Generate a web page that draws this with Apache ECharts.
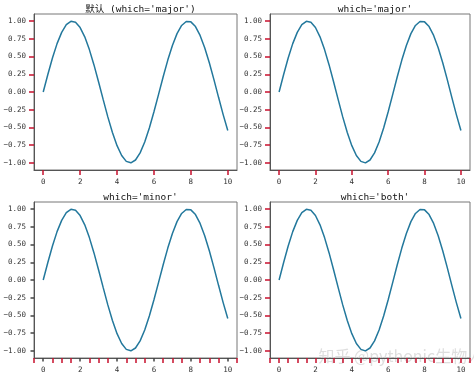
<!DOCTYPE html>
<html>
<head>
<meta charset="utf-8">
<script src="https://cdn.jsdelivr.net/npm/echarts@6/dist/echarts.min.js"></script>
<style>
  html, body { margin: 0; padding: 0; background: #fff; }
  #chart { width: 474px; height: 378px; }
</style>
</head>
<body>
<div id="chart"></div>
<script>
// sin 曲线读数 (x 间隔 0.25)
const xs = [0, 0.25, 0.5, 0.75, 1, 1.25, 1.5, 1.75, 2, 2.25, 2.5, 2.75, 3, 3.25, 3.5, 3.75,
  4, 4.25, 4.5, 4.75, 5, 5.25, 5.5, 5.75, 6, 6.25, 6.5, 6.75, 7, 7.25, 7.5, 7.75,
  8, 8.25, 8.5, 8.75, 9, 9.25, 9.5, 9.75, 10];
const ys = [0, 0.247, 0.479, 0.682, 0.841, 0.949, 0.997, 0.984, 0.909, 0.778, 0.598, 0.382,
  0.141, -0.108, -0.351, -0.572, -0.757, -0.895, -0.978, -0.999, -0.959, -0.859, -0.706,
  -0.508, -0.279, -0.033, 0.215, 0.45, 0.657, 0.823, 0.938, 0.995, 0.989, 0.923, 0.798,
  0.624, 0.412, 0.174, -0.075, -0.319, -0.544];

const xMajorTicks = [0, 2, 4, 6, 8, 10];
const xMinorTicks = [-0.5, 0.5, 1, 1.5, 2.5, 3, 3.5, 4.5, 5, 5.5, 6.5, 7, 7.5, 8.5, 9, 9.5, 10.5];
const xAllTicks = [-0.5, 0, 0.5, 1, 1.5, 2, 2.5, 3, 3.5, 4, 4.5, 5, 5.5, 6, 6.5, 7, 7.5, 8, 8.5, 9, 9.5, 10, 10.5];
const yTicks = [-1, -0.75, -0.5, -0.25, 0, 0.25, 0.5, 0.75, 1];

const titles = ["默认 (which='major')", "which='major'", "which='minor'", "which='both'"];

const FONT = "'DejaVu Sans Mono', 'Noto Sans CJK SC', monospace";
const RED = '#c8102e';
const GRAY = '#555';
const LINE = '#23789c';

// 四个子图的位置
const grids = [
  { left: 34, top: 14, width: 203, height: 156 },
  { left: 270, top: 14, width: 200, height: 156 },
  { left: 34, top: 202, width: 203, height: 156 },
  { left: 270, top: 202, width: 200, height: 156 }
];

const points = xs.map((x, i) => [x, ys[i]]);

const fmtY = v => (v < 0 ? '\u2212' : '') + Math.abs(v).toFixed(2);

const makeX = (gridIndex, tickValues, tickColor, tickLen) => ({
  type: 'value',
  gridIndex,
  position: 'bottom',
  offset: 0,
  min: -0.5,
  max: 10.5,
  axisLine: { show: true, onZero: false, lineStyle: { color: GRAY, width: 1 } },
  axisTick: { show: true, customValues: tickValues, length: tickLen, lineStyle: { color: tickColor, width: 1.5 } },
  axisLabel: { customValues: xMajorTicks, margin: 8, fontFamily: FONT, fontSize: 7.5, color: '#333' },
  splitLine: { show: false }
});

const makeY = (gridIndex, tickColor, tickLen) => ({
  type: 'value',
  gridIndex,
  position: 'left',
  min: -1.1,
  max: 1.1,
  axisLine: { show: true, onZero: false, lineStyle: { color: GRAY, width: 1 } },
  axisTick: { show: true, customValues: yTicks, length: tickLen, lineStyle: { color: tickColor, width: 1.5 } },
  axisLabel: { customValues: yTicks, margin: 8, fontFamily: FONT, fontSize: 7.5, color: '#333', formatter: fmtY },
  splitLine: { show: false }
});

const xAxes = [
  makeX(0, xMajorTicks, RED, 5),
  makeX(1, xMajorTicks, RED, 5),
  makeX(2, xMajorTicks, '#444', 3.5),
  makeX(3, xAllTicks, RED, 5),
  // 'minor' 子图的次刻度 (红色)
  {
    ...makeX(2, xMinorTicks, RED, 5),
    axisLine: { show: false, onZero: false },
    axisLabel: { show: false }
  }
];

const yAxes = [
  makeY(0, RED, 5),
  makeY(1, RED, 5),
  makeY(2, '#444', 3.5),
  makeY(3, RED, 5)
];

const option = {
  backgroundColor: '#fff',
  animation: false,
  title: titles.map((t, i) => ({
    text: t,
    left: grids[i].left + grids[i].width / 2,
    top: grids[i].top - 14,
    textAlign: 'center',
    textStyle: { fontFamily: FONT, fontSize: 9.5, fontWeight: 'normal', color: '#111' }
  })),
  grid: grids.map(g => ({ ...g, show: true, borderColor: '#777', borderWidth: 1, backgroundColor: 'transparent' })),
  xAxis: xAxes,
  yAxis: yAxes,
  series: grids.map((g, i) => ({
    type: 'line',
    xAxisIndex: i,
    yAxisIndex: i,
    data: points,
    showSymbol: false,
    lineStyle: { color: LINE, width: 1.5 },
    silent: true
  })),
  graphic: [{
    type: 'text',
    left: 318,
    top: 347,
    silent: true,
    style: {
      text: '知乎 @pythonic生物人',
      fontFamily: "'Noto Sans CJK SC', sans-serif",
      fontSize: 16,
      fill: 'rgba(160,160,160,0.35)',
      stroke: 'rgba(255,255,255,0.5)',
      lineWidth: 1
    }
  }]
};

const chart = echarts.init(document.getElementById('chart'));
chart.setOption(option);
</script>
</body>
</html>
